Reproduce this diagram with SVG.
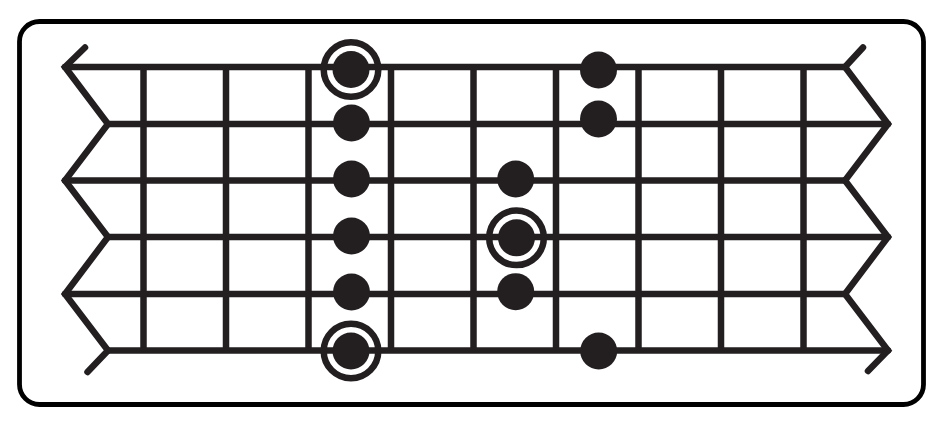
<svg xmlns="http://www.w3.org/2000/svg" width="950" height="429" viewBox="0 0 950 429">
<style>
.ln{stroke:#231f20;stroke-width:6.5;fill:none;stroke-linecap:round;stroke-linejoin:miter}
.fr{stroke:#231f20;stroke-width:6.5;fill:none}
.dot{fill:#231f20}
.ring{fill:none;stroke:#231f20;stroke-width:6.5}
</style>
<rect x="0" y="0" width="950" height="429" fill="#ffffff"/>
<rect x="19.5" y="21.5" width="904" height="383" rx="20" ry="20" fill="#ffffff" stroke="#000000" stroke-width="4.8"/>
<g id="fretboard">
<g id="frets">
<line class="fr" x1="143.5" y1="67" x2="143.5" y2="351"/>
<line class="fr" x1="226" y1="67" x2="226" y2="351"/>
<line class="fr" x1="308.5" y1="67" x2="308.5" y2="351"/>
<line class="fr" x1="391" y1="67" x2="391" y2="351"/>
<line class="fr" x1="473.5" y1="67" x2="473.5" y2="351"/>
<line class="fr" x1="556" y1="67" x2="556" y2="351"/>
<line class="fr" x1="638.5" y1="67" x2="638.5" y2="351"/>
<line class="fr" x1="721" y1="67" x2="721" y2="351"/>
<line class="fr" x1="803.5" y1="67" x2="803.5" y2="351"/>
</g>
<g id="strings">
<line class="ln" x1="65" y1="67" x2="845" y2="67"/>
<line class="ln" x1="108" y1="124" x2="888" y2="124"/>
<line class="ln" x1="65" y1="180.5" x2="845" y2="180.5"/>
<line class="ln" x1="108" y1="237" x2="888" y2="237"/>
<line class="ln" x1="65" y1="294" x2="845" y2="294"/>
<line class="ln" x1="108" y1="350.5" x2="888" y2="350.5"/>
</g>
<g id="ends">
<polyline class="ln" points="85,47.5 65,67 108,124 65,180.5 108,237 65,294 108,350.5 87.5,372"/>
<polyline class="ln" points="863,47.5 845,67 888,124 845,180.5 888,237 845,294 888,350.5 868,371"/>
</g>
</g>
<g id="n1"><circle class="ring" cx="351" cy="69.5" r="27.3"/><circle class="dot" cx="351" cy="69.5" r="18.5"/></g>
<g id="n2"><circle class="dot" cx="351.5" cy="123" r="18.5"/></g>
<g id="n3"><circle class="dot" cx="351.5" cy="179" r="18.5"/></g>
<g id="n4"><circle class="dot" cx="351.5" cy="236" r="18.5"/></g>
<g id="n5"><circle class="dot" cx="351.5" cy="292" r="18.5"/></g>
<g id="n6"><circle class="ring" cx="351" cy="351" r="27.3"/><circle class="dot" cx="351" cy="351" r="18.5"/></g>
<g id="n7"><circle class="dot" cx="515.7" cy="179" r="18.5"/></g>
<g id="n8"><circle class="ring" cx="516.5" cy="237.8" r="27.3"/><circle class="dot" cx="516.5" cy="237.8" r="18.5"/></g>
<g id="n9"><circle class="dot" cx="515.7" cy="291.7" r="18.5"/></g>
<g id="n10"><circle class="dot" cx="598.5" cy="70" r="18.5"/></g>
<g id="n11"><circle class="dot" cx="598.5" cy="119" r="18.5"/></g>
<g id="n12"><circle class="dot" cx="598.7" cy="351" r="18.5"/></g>
</svg>
